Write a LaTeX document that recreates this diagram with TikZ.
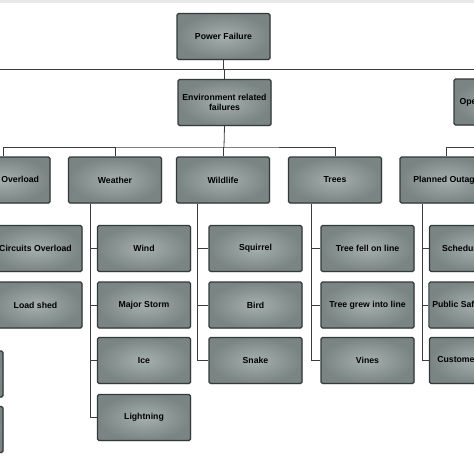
\documentclass[tikz,border=0pt]{standalone}
\usepackage{fontspec}
\setmainfont{Liberation Sans}
\usetikzlibrary{shadows}
\definecolor{boxgray}{HTML}{A5AFAE}
\definecolor{boxrim}{HTML}{7A8483}
\definecolor{boxline}{HTML}{343A3A}
\definecolor{wire}{HTML}{3C3C3C}
\tikzset{
  cause/.style={draw=boxline, line width=1.1pt, rounded corners=1.5pt,
    inner color=boxgray, outer color=boxrim,
    minimum width=93pt, minimum height=46pt, align=center,
    font=\fontsize{8.7}{9.8}\selectfont\bfseries,
    drop shadow={opacity=0.25, shadow xshift=0.8pt, shadow yshift=-0.8pt}},
  wire/.style={draw=wire, line width=0.8pt}
}
\begin{document}
\begin{tikzpicture}[x=1pt,y=-1pt]
  \useasboundingbox (0,0) rectangle (474,474);
  \clip (0,0) rectangle (474,474);
  \fill[white] (0,0) rectangle (474,474);
  \fill[black!9] (0,0) rectangle (474,2.5);

  % top levels
  \node[cause] (pf) at (223.5,36.5) {Power Failure};
  \node[cause] (env) at (224.5,102.5) {Environment related\\failures};
  \node[cause] (op) at (500.5,102) {Operational failures};

  % causes
  \node[cause] (overload) at (3.5,180) {System Overload};
  \node[cause] (weather) at (115,180) {Weather};
  \node[cause] (wildlife) at (223,180) {Wildlife};
  \node[cause] (trees) at (335,180) {Trees};
  \node[cause] (planned) at (446.5,180) {Planned Outage};

  % overload
  \node[cause] (circuits) at (35.5,248.5) {Circuits Overload};
  \node[cause] (loadshed) at (35.5,305) {Load shed};
  \node[cause] (lefta) at (-43.5,374) {};
  \node[cause] (leftb) at (-43.5,429.5) {};

  % weather
  \node[cause] (wind) at (144,248.5) {Wind};
  \node[cause] (storm) at (144,305) {Major Storm};
  \node[cause] (ice) at (144,360.5) {Ice};
  \node[cause] (lightning) at (144,417.5) {Lightning};

  % wildlife
  \node[cause] (squirrel) at (255.5,248.5) {Squirrel};
  \node[cause] (bird) at (255.5,305) {Bird};
  \node[cause] (snake) at (255.5,360.5) {Snake};

  % trees
  \node[cause] (fell) at (367.5,248.5) {Tree fell on line};
  \node[cause] (grew) at (367.5,305) {Tree grew into line};
  \node[cause] (vines) at (367.5,360.5) {Vines};

  % planned outage
  \node[cause] (sched) at (476,248.5) {Scheduled Work};
  \node[cause] (safety) at (476,305) {Public Safety Shutoff};
  \node[cause] (customer) at (476,360.5) {Customer Request};

  % connectors
  \coordinate (busl) at (-60,69);
  \coordinate (busr) at (560,69);
  \coordinate (bus) at (224,147);
  \draw[wire] (busl) -- (busr);
  \draw[wire] (pf.south) -- (pf.south |- busl);
  \draw[wire] (env.north) -- (env.north |- busl);
  \draw[wire] (op.north) -- (op.north |- busl);
  \draw[wire] (env.south) -- (bus);
  \draw[wire] (overload.north) |- (bus) -| (trees.north);
  \draw[wire] (weather.north) -- (weather.north |- bus);
  \draw[wire] (wildlife.north) -- (wildlife.north |- bus);
  \draw[wire] (planned.north) |- (bus -| op.south) -- (op.south);

  \foreach \c in {wind,storm,ice,lightning}
    \draw[wire] ([xshift=22.5pt]weather.south west) |- (\c.west);
  \foreach \c in {squirrel,bird,snake}
    \draw[wire] ([xshift=21.5pt]wildlife.south west) |- (\c.west);
  \foreach \c in {fell,grew,vines}
    \draw[wire] ([xshift=23.5pt]trees.south west) |- (\c.west);
  \foreach \c in {sched,safety,customer}
    \draw[wire] ([xshift=23pt]planned.south west) |- (\c.west);
\end{tikzpicture}
\end{document}
